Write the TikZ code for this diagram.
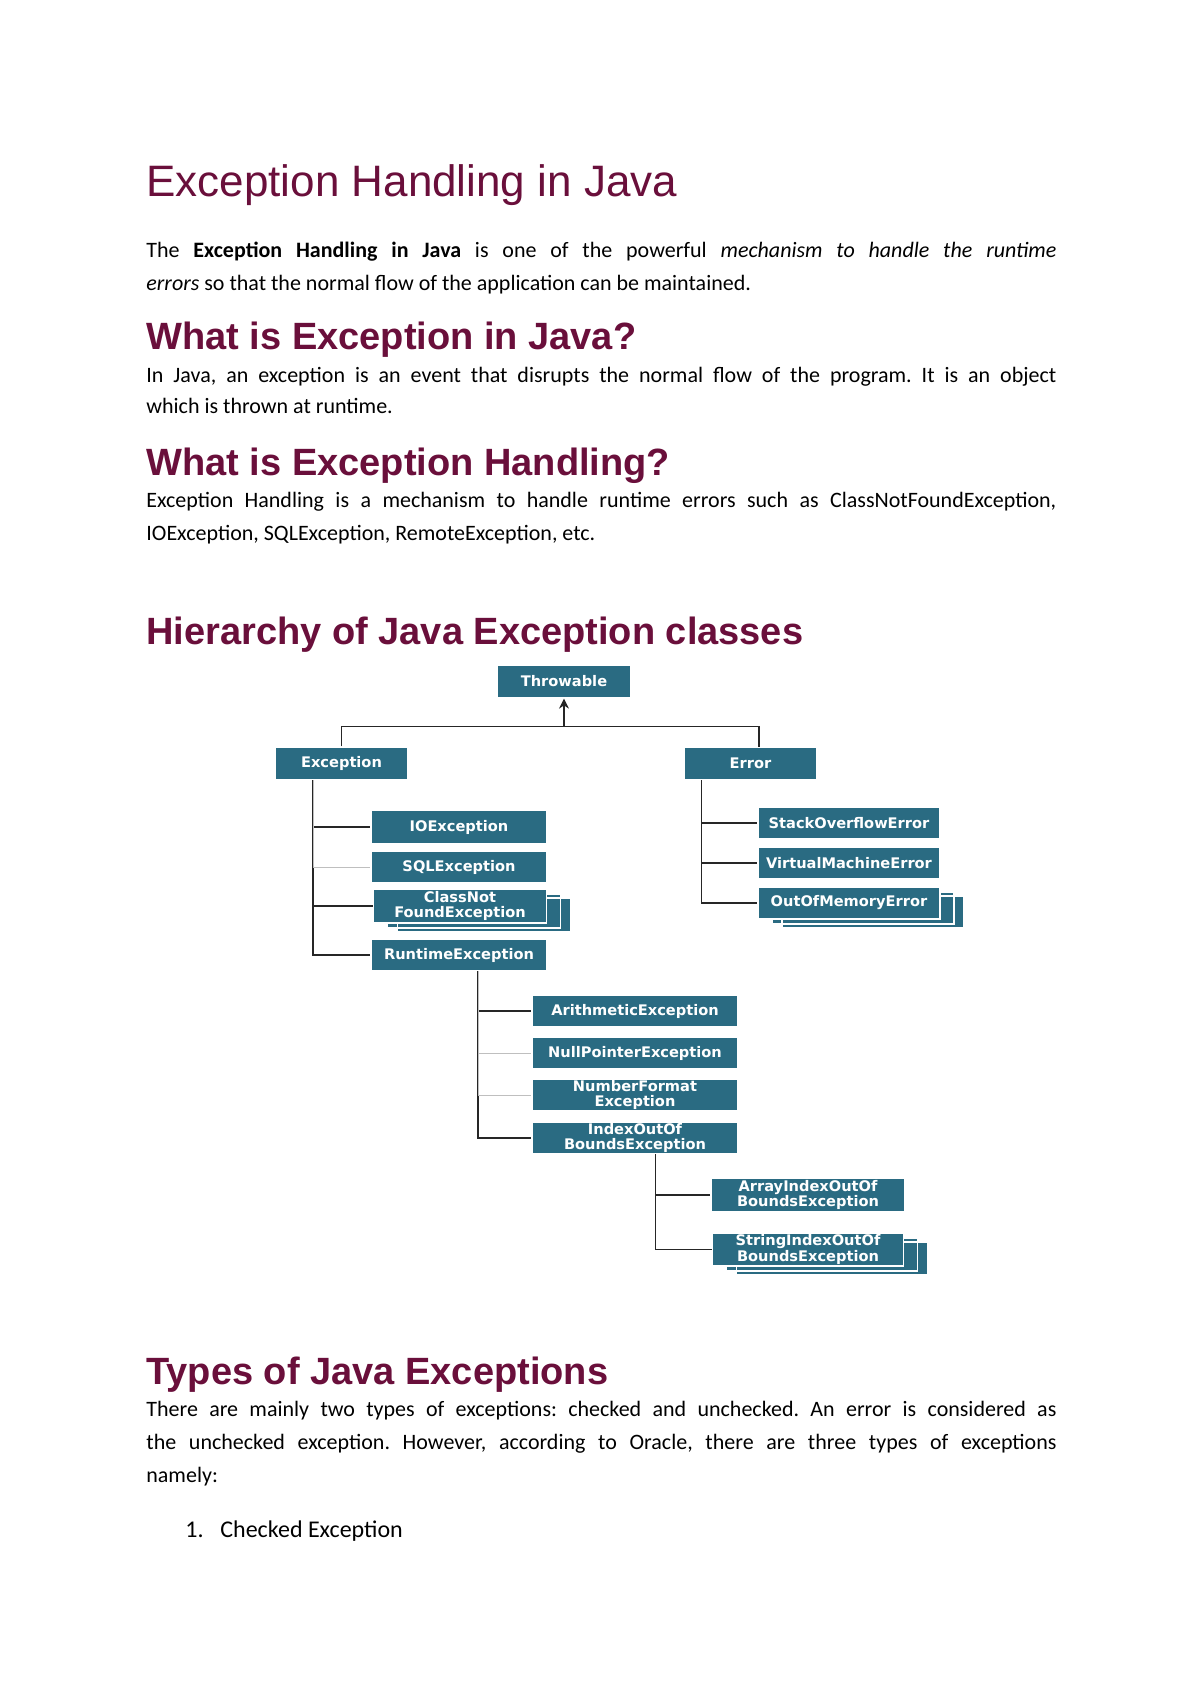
\documentclass[tikz,border=0pt]{standalone}
\usepackage{fontspec}
\setmainfont{Carlito}
\newfontfamily\hd{Liberation Sans}
\newfontfamily\bxf{DejaVu Sans}
\usetikzlibrary{arrows.meta}
\definecolor{mar}{HTML}{6A0F3B}
\definecolor{teal}{HTML}{2A6B82}
\tikzset{
  box/.style={fill=teal,draw=white,line width=0.6pt,text=white,font=\bxf\bfseries\fontsize{7.3}{7.6}\selectfont,align=center,inner sep=0pt},
  shad/.style={fill=teal,draw=white,line width=0.6pt},
  ln/.style={line width=0.8pt,black!85},
  gl/.style={line width=0.5pt,black!25},
  bt/.style={anchor=base west,inner sep=0pt,font=\fontsize{11}{16}\selectfont},
  hh/.style={anchor=base west,inner sep=0pt,text=mar,font=\hd\bfseries\fontsize{19}{22}\selectfont}
}
\newcommand{\jl}[1]{\makebox[455pt][s]{#1}}
\frenchspacing
\begin{document}
\begin{tikzpicture}[x=0.5pt,y=-0.5pt]
\useasboundingbox[fill=white] (0,0) rectangle (1200,1696);
\node[anchor=base west,inner sep=0pt,text=mar,font=\hd\fontsize{22}{26}\selectfont] (t) at (146,197) {Exception Handling in Java};
\node[bt] (p1) at (146,257) {\jl{The \textbf{Exception Handling in Java} is one of the powerful \textit{mechanism to handle the runtime}}};
\node[bt] (p2) at (146,290) {\textit{errors} so that the normal flow of the application can be maintained.};
\node[hh] (h1) at (146,349) {What is Exception in Java?};
\node[bt] (p3) at (146,382) {\jl{In Java, an exception is an event that disrupts the normal flow of the program. It is an object}};
\node[bt] (p4) at (146,413) {which is thrown at runtime.};
\node[hh] (h2) at (146,475) {What is Exception Handling?};
\node[bt] (p5) at (146,507) {\jl{Exception Handling is a mechanism to handle runtime errors such as ClassNotFoundException,}};
\node[bt] (p6) at (146,540) {IOException, SQLException, RemoteException, etc.};
\node[hh] (h3) at (146,644) {Hierarchy of Java Exception classes};
\node[hh] (h4) at (146,1384) {Types of Java Exceptions};
\node[bt] (p7) at (146,1416) {\jl{There are mainly two types of exceptions: checked and unchecked. An error is considered as}};
\node[bt] (p8) at (146,1449) {\jl{the unchecked exception. However, according to Oracle, there are three types of exceptions}};
\node[bt] (p9) at (146,1482) {namely:};
\node[bt,font=\fontsize{12}{16}\selectfont] (l1n) at (185,1537) {1.};
\node[bt,font=\fontsize{12}{16}\selectfont] (l1) at (220,1537) {Checked Exception};
% shadows
\foreach \cx/\cy/\w/\h in {460/906/173/34, 849/903/182/32, 808/1249.5/191/33}{
  \fill[shad] (\cx-\w/2+24,\cy-\h/2+9) rectangle (\cx+\w/2+24,\cy+\h/2+9);
  \fill[shad] (\cx-\w/2+14,\cy-\h/2+5) rectangle (\cx+\w/2+14,\cy+\h/2+5);
  \draw[white,line width=0.6pt] (\cx-\w/2+24,\cy-\h/2+9) rectangle (\cx+\w/2+24,\cy+\h/2+9);
  \draw[white,line width=0.6pt] (\cx-\w/2+14,\cy-\h/2+5) rectangle (\cx+\w/2+14,\cy+\h/2+5);
}
\node[box,minimum width=66.5pt,minimum height=16.5pt] (thr) at (564,681.5) {Throwable};
\node[box,minimum width=66.5pt,minimum height=16.5pt] (exc) at (341.5,763.5) {Exception};
\node[box,minimum width=66.5pt,minimum height=16.5pt] (err) at (750.5,763.5) {Error};
\node[box,minimum width=88pt,minimum height=16.2pt] (io) at (459,827) {IOException};
\node[box,minimum width=88pt,minimum height=16pt] (sql) at (459,867) {SQLException};
\node[box,minimum width=86.5pt,minimum height=17pt] (cnf) at (460,906) {ClassNot\\FoundException};
\node[box,minimum width=88pt,minimum height=16pt] (rt) at (459,955) {RuntimeException};
\node[box,minimum width=103pt,minimum height=16pt] (ar) at (635,1011) {ArithmeticException};
\node[box,minimum width=103pt,minimum height=16pt] (np) at (635,1053) {NullPointerException};
\node[box,minimum width=103pt,minimum height=16pt] (nf) at (635,1095) {NumberFormat\\Exception};
\node[box,minimum width=103pt,minimum height=16pt] (iob) at (635,1138) {IndexOutOf\\BoundsException};
\node[box,minimum width=97pt,minimum height=17pt] (aio) at (808,1195) {ArrayIndexOutOf\\BoundsException};
\node[box,minimum width=95.5pt,minimum height=16.5pt] (sio) at (808,1249.5) {StringIndexOutOf\\BoundsException};
\node[box,minimum width=91pt,minimum height=16pt] (so) at (849,823) {StackOverflowError};
\node[box,minimum width=91pt,minimum height=16pt] (vm) at (849,863) {VirtualMachineError};
\node[box,minimum width=91pt,minimum height=16pt] (oom) at (849,903) {OutOfMemoryError};
% connectors
\coordinate (hub) at (564,726.5);
\coordinate (ed) at (759,747);
\draw[ln] (exc.north) |- (hub) -| (ed);
\draw[ln,-{Stealth[length=5pt,width=5pt]}] (hub) -- (thr.south);
\coordinate (et) at (313,780);
\draw[ln] (et) |- (rt.west);
\draw[ln] (et) |- (io.west);
\draw[ln] (et) |- (cnf.west);
\draw[gl] (et) |- (sql.west);
\coordinate (rtt) at (478,971);
\draw[ln] (rtt) |- (iob.west);
\draw[ln] (rtt) |- (ar.west);
\draw[gl] (rtt) |- (np.west);
\draw[gl] (rtt) |- (nf.west);
\coordinate (it) at (655.5,1154);
\draw[ln] (it) |- (sio.west);
\draw[ln] (it) |- (aio.west);
\coordinate (rt2) at (701.5,780);
\draw[ln] (rt2) |- (oom.west);
\draw[ln] (rt2) |- (so.west);
\draw[ln] (rt2) |- (vm.west);
\end{tikzpicture}
\end{document}
